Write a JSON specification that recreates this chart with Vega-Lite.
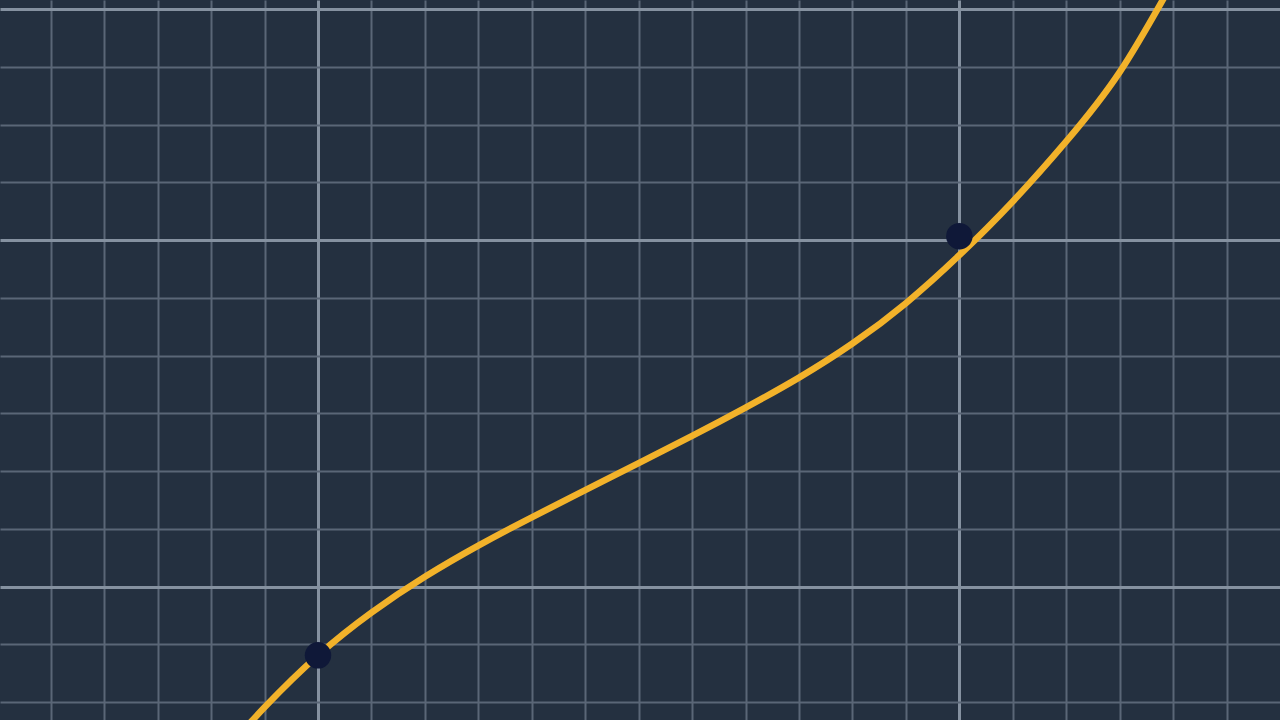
{
  "$schema": "https://vega.github.io/schema/vega-lite/v6.json",
  "description": "Yellow curve through two dark points on a dark grid",
  "width": 1280,
  "height": 720,
  "autosize": {"type": "fit", "contains": "padding"},
  "padding": 0,
  "background": "#243040",
  "config": {"view": {"stroke": null}},
  "datasets": {
    "curve": [
      {"x": -2, "y": -1.11},
      {"x": -1, "y": -0.09},
      {"x": 0, "y": 0.81},
      {"x": 1, "y": 1.55},
      {"x": 2, "y": 2.17},
      {"x": 3, "y": 2.71},
      {"x": 4, "y": 3.2},
      {"x": 5, "y": 3.67},
      {"x": 6, "y": 4.14},
      {"x": 7, "y": 4.61},
      {"x": 8, "y": 5.1},
      {"x": 9, "y": 5.62},
      {"x": 10, "y": 6.21},
      {"x": 11, "y": 6.91},
      {"x": 12, "y": 7.74},
      {"x": 13, "y": 8.67},
      {"x": 14, "y": 9.71},
      {"x": 15, "y": 10.91},
      {"x": 16, "y": 12.48}
    ],
    "dots": [
      {"x": 0, "y": 0.81},
      {"x": 12, "y": 8.07}
    ]
  },
  "encoding": {
    "x": {
      "field": "x",
      "type": "quantitative",
      "scale": {"domain": [-5.95, 18.0], "nice": false, "zero": false},
      "axis": {
        "values": [-5, -4, -3, -2, -1, 0, 1, 2, 3, 4, 5, 6, 7, 8, 9, 10, 11, 12, 13, 14, 15, 16, 17],
        "labels": false, "ticks": false, "domain": false, "title": null,
        "grid": true,
        "gridColor": {"condition": {"test": "datum.value === 0 || datum.value === 12", "value": "#8591a0"}, "value": "#5a6677"},
        "gridWidth": {"condition": {"test": "datum.value === 0 || datum.value === 12", "value": 3}, "value": 2},
        "gridOpacity": 1
      }
    },
    "y": {
      "field": "y",
      "type": "quantitative",
      "scale": {"domain": [-0.31, 12.16], "nice": false, "zero": false},
      "axis": {
        "values": [0, 1, 2, 3, 4, 5, 6, 7, 8, 9, 10, 11, 12],
        "labels": false, "ticks": false, "domain": false, "title": null,
        "grid": true,
        "gridColor": {"condition": {"test": "datum.value === 2 || datum.value === 8 || datum.value === 12", "value": "#8591a0"}, "value": "#5a6677"},
        "gridWidth": {"condition": {"test": "datum.value === 2 || datum.value === 8 || datum.value === 12", "value": 3}, "value": 2},
        "gridOpacity": 1
      }
    }
  },
  "layer": [
    {
      "data": {"name": "curve"},
      "mark": {"type": "line", "interpolate": "natural", "color": "#f2b22a", "strokeWidth": 6.5, "clip": true, "strokeCap": "round"},
      "encoding": {"order": {"field": "x"}}
    },
    {
      "data": {"name": "dots"},
      "mark": {"type": "point", "filled": true, "size": 700, "color": "#0f1838", "opacity": 1}
    }
  ]
}
